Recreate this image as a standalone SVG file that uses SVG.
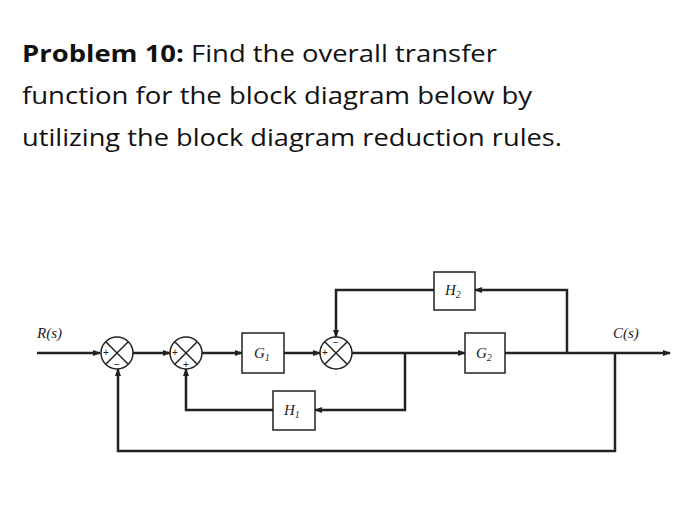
<svg xmlns="http://www.w3.org/2000/svg" width="700" height="507" viewBox="0 0 700 507">
<style>
.t{font-family:"Open Sans","Liberation Sans",sans-serif;font-size:23px;fill:#111}
.l{font-family:"Liberation Serif",serif;font-style:italic;font-size:15px;fill:#222}
.s{font-family:"Liberation Sans",sans-serif;font-size:10px;fill:#222}
.w{fill:none;stroke:#222;stroke-width:2.5}
.b{fill:#fff;stroke:#222;stroke-width:1.5}
</style>
<defs><marker id="a" markerWidth="8" markerHeight="8" refX="7" refY="4" orient="auto" markerUnits="userSpaceOnUse"><path d="M0,1 L8,4 L0,7z" fill="#222"/></marker></defs>
<rect width="700" height="507" fill="#fff"/>
<text class="t" x="22" y="62" textLength="475" lengthAdjust="spacingAndGlyphs"><tspan font-weight="bold">Problem 10:</tspan>  Find the overall transfer</text>
<text class="t" x="22" y="104" textLength="510" lengthAdjust="spacingAndGlyphs">function for the block diagram below by</text>
<text class="t" x="22" y="146" textLength="540" lengthAdjust="spacingAndGlyphs">utilizing the block diagram reduction rules.</text>
<g id="connectors" class="w">
<path d="M37,353 H100" marker-end="url(#a)"/>
<path d="M132,353 H170" marker-end="url(#a)"/>
<path d="M202,353 H242" marker-end="url(#a)"/>
<path d="M284,353 H320" marker-end="url(#a)"/>
<path d="M352,353 H465" marker-end="url(#a)"/>
<path d="M505,353 H670" marker-end="url(#a)"/>
<path d="M405,353 V410 H315" marker-end="url(#a)"/>
<path d="M273,410 H186 V369" marker-end="url(#a)"/>
<path d="M567,353 V290 H475" marker-end="url(#a)"/>
<path d="M434,290 H336 V337" marker-end="url(#a)"/>
<path d="M615,353 V451 H118 V369" marker-end="url(#a)"/>
</g>
<g id="sum1"><circle class="b" cx="117" cy="353" r="16"/><path d="M106,342 L128,364 M128,342 L106,364" stroke="#222" stroke-width="1.5"/><text class="s" x="103" y="356">+</text><text class="s" x="114" y="368">−</text></g>
<g id="sum2"><circle class="b" cx="186" cy="353" r="16"/><path d="M175,342 L197,364 M197,342 L175,364" stroke="#222" stroke-width="1.5"/><text class="s" x="172" y="356">+</text><text class="s" x="183" y="368">+</text></g>
<g id="sum3"><circle class="b" cx="336" cy="353" r="16"/><path d="M325,342 L347,364 M347,342 L325,364" stroke="#222" stroke-width="1.5"/><text class="s" x="322" y="356">+</text><text class="s" x="333" y="346">−</text></g>
<g id="G1"><rect class="b" x="242" y="333" width="42" height="40"/><text class="l" x="254" y="358">G<tspan font-size="10" dy="3">1</tspan></text></g>
<g id="G2"><rect class="b" x="465" y="333" width="40" height="40"/><text class="l" x="476" y="358">G<tspan font-size="10" dy="3">2</tspan></text></g>
<g id="H1"><rect class="b" x="273" y="391" width="42" height="39"/><text class="l" x="284" y="415">H<tspan font-size="10" dy="3">1</tspan></text></g>
<g id="H2"><rect class="b" x="434" y="272" width="41" height="38"/><text class="l" x="445" y="295">H<tspan font-size="10" dy="3">2</tspan></text></g>
<text class="l" x="37" y="338">R(s)</text>
<text class="l" x="613" y="338">C(s)</text>
</svg>
